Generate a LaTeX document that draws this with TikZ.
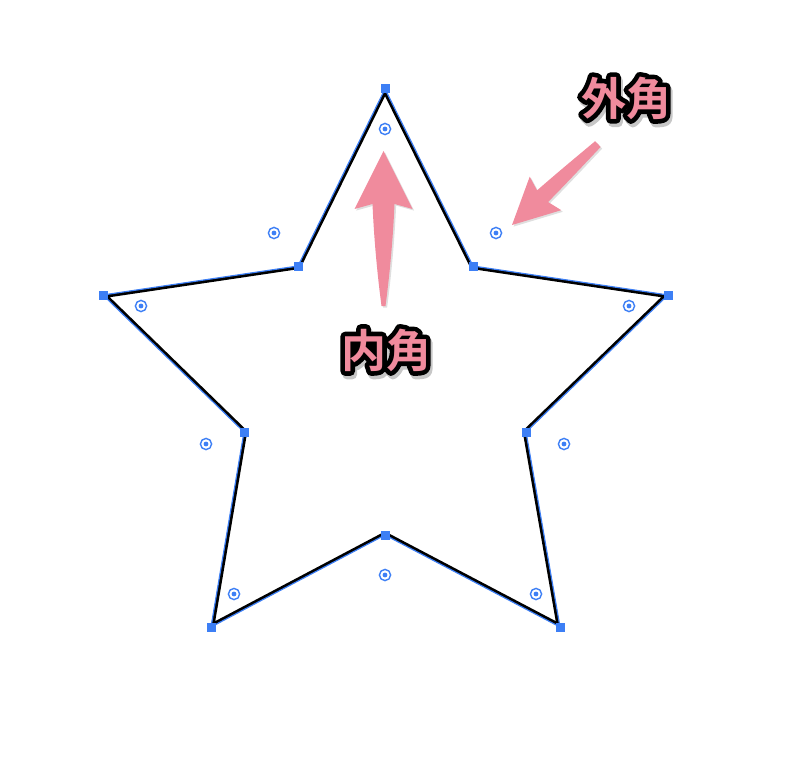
\documentclass[tikz,border=0pt]{standalone}
\usepackage{fontspec}
\newfontfamily\jpfont[BoldFont={Noto Sans CJK JP Bold}]{Noto Sans CJK JP}
\usepackage{tikz}
\usetikzlibrary{positioning, shadows}

\definecolor{markblue}{RGB}{61,127,245}
\definecolor{notepink}{RGB}{240,139,157}
\newcommand\edged[1]{\special{pdf:literal direct 2 Tr 4.6 w 1 j 1 J}#1\special{pdf:literal direct 0 Tr 0.4 w}}

\begin{document}
\begin{tikzpicture}[x=0.5pt, y=-0.5pt,
  handle/.style={fill=markblue, inner sep=0pt, minimum size=4.5pt},
  target/.style={circle, draw=markblue, line width=0.7pt, inner sep=0pt, minimum size=5.6pt,
    path picture={\fill[markblue] (path picture bounding box.center) circle (1.2pt);}},
  tag/.style={font=\jpfont\bfseries\fontsize{22.5pt}{22.5pt}\selectfont, inner sep=0pt}]
\useasboundingbox (0, 0) rectangle (802, 770);

% corners of the star
\coordinate (p1) at (385, 89);
\coordinate (p2) at (473, 266);
\coordinate (p3) at (668, 295);
\coordinate (p4) at (526, 432);
\coordinate (p5) at (560, 627);
\coordinate (p6) at (385, 535);
\coordinate (p7) at (211, 627);
\coordinate (p8) at (244, 432);
\coordinate (p9) at (103, 295);
\coordinate (p10) at (298, 266);

\begin{scope}
\clip (p1) -- (p2) -- (p3) -- (p4) -- (p5) -- (p6) -- (p7) -- (p8) -- (p9) -- (p10) -- cycle;
\draw[line width=3.2pt, line join=miter] (p1) -- (p2) -- (p3) -- (p4) -- (p5) -- (p6) -- (p7) -- (p8) -- (p9) -- (p10) -- cycle;
\end{scope}
\draw[markblue, line width=0.6pt] (p1) -- (p2) -- (p3) -- (p4) -- (p5) -- (p6) -- (p7) -- (p8) -- (p9) -- (p10) -- cycle;

\node[handle] (h1) at (p1) {};
\node[handle] (h2) at (p2) {};
\node[handle] (h3) at (p3) {};
\node[handle] (h4) at (p4) {};
\node[handle] (h5) at (p5) {};
\node[handle] (h6) at (p6) {};
\node[handle] (h7) at (p7) {};
\node[handle] (h8) at (p8) {};
\node[handle] (h9) at (p9) {};
\node[handle] (h10) at (p10) {};

% corner widgets
\node[target] (c1) at (385, 129) {};
\node[target] (c2) at (496, 233) {};
\node[target] (c3) at (629, 306) {};
\node[target] (c4) at (564, 444) {};
\node[target] (c5) at (536, 594) {};
\node[target] (c6) at (385, 575) {};
\node[target] (c7) at (234, 594) {};
\node[target] (c8) at (206, 444) {};
\node[target] (c9) at (141, 306) {};
\node[target] (c10) at (274, 233) {};

% pink arrows
\begin{scope}[shift={(383.5, 151)}]
\fill[notepink, drop shadow={opacity=0.25, shadow xshift=0.8pt, shadow yshift=-0.8pt}]
  (0, 0) -- (29, 58) -- (11, 53) .. controls (9, 100) and (4, 140) .. (2, 155)
  -- (-2, 155) .. controls (-4, 140) and (-9, 100) .. (-11, 53) -- (-29, 58) -- cycle;
\end{scope}
\begin{scope}[shift={(512, 225)}, rotate=133.3]
\fill[notepink, drop shadow={opacity=0.25, shadow xshift=0.8pt, shadow yshift=-0.8pt}]
  (0, 0) -- (23, 46) -- (8, 42) .. controls (7, 70) and (5, 100) .. (4, 118)
  -- (-4, 118) .. controls (-5, 100) and (-7, 70) .. (-8, 42) -- (-23, 46) -- cycle;
\end{scope}

% labels
\node[tag, text=black!22] at (388, 353.5) {\edged{内角}};
\node[tag, text=black] at (386, 350) {\edged{内角}};
\node[tag, text=notepink] (inner) at (386, 350) {内角};
\node[tag, text=black!22] at (628, 101.5) {\edged{外角}};
\node[tag, text=black] at (626, 98) {\edged{外角}};
\node[tag, text=notepink] (outer) at (626, 98) {外角};
\end{tikzpicture}
\end{document}
